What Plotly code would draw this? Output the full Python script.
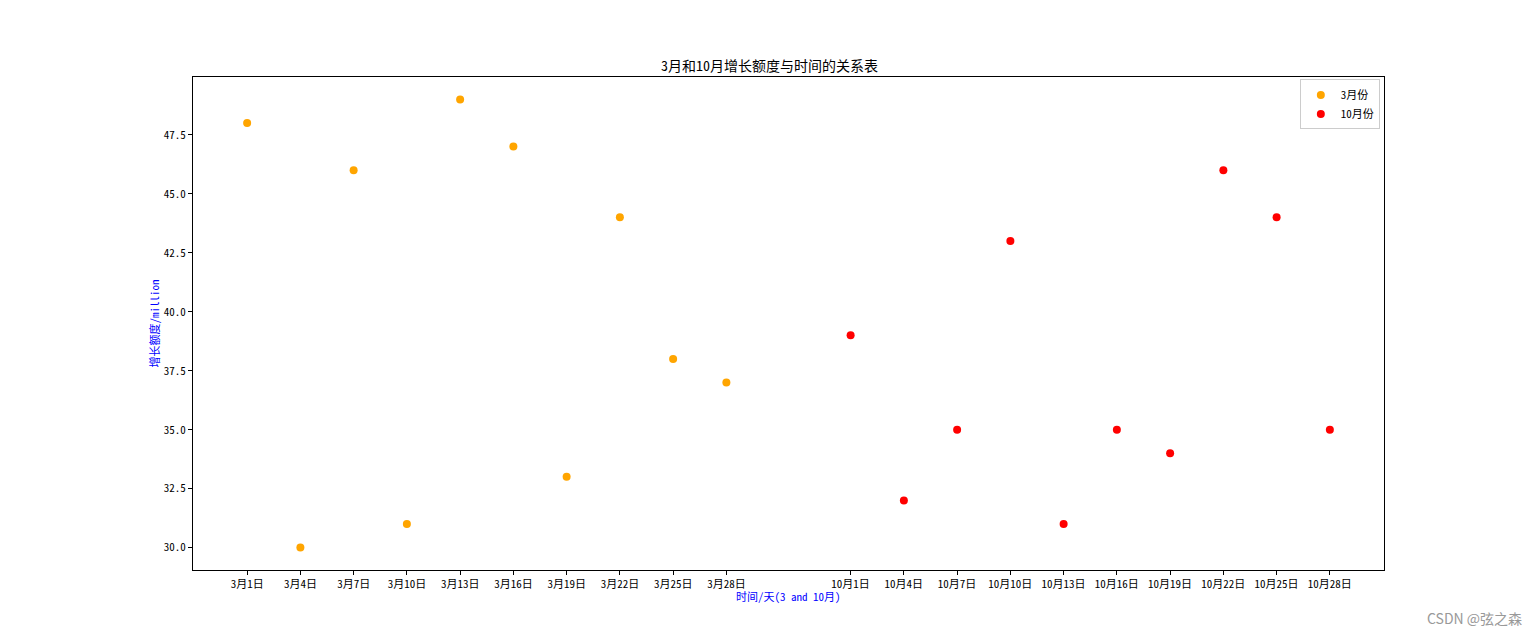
import plotly.graph_objects as go

# Data
march_x = [1, 4, 7, 10, 13, 16, 19, 22, 25, 28]
march_y = [48, 30, 46, 31, 49, 47, 33, 44, 38, 37]
oct_x = [35, 38, 41, 44, 47, 50, 53, 56, 59, 62]
oct_y = [39, 32, 35, 43, 31, 35, 34, 46, 44, 35]
march_labels = ["3月1日", "3月4日", "3月7日", "3月10日", "3月13日", "3月16日", "3月19日", "3月22日", "3月25日", "3月28日"]
oct_labels = ["10月1日", "10月4日", "10月7日", "10月10日", "10月13日", "10月16日", "10月19日", "10月22日", "10月25日", "10月28日"]
y_ticks = [30.0, 32.5, 35.0, 37.5, 40.0, 42.5, 45.0, 47.5]

FONT = "Noto Sans Mono CJK SC, Noto Sans CJK SC, DejaVu Sans Mono, sans-serif"

W, H = 1523, 624
L, T, R, B = 185, 69, 147, 62

fig = go.Figure()
fig.add_trace(go.Scatter(x=march_x, y=march_y, mode="markers", name="3月份",
                         marker=dict(color="orange", size=8)))
fig.add_trace(go.Scatter(x=oct_x, y=oct_y, mode="markers", name="10月份",
                         marker=dict(color="red", size=8)))

xmin, xmax = min(march_x), max(oct_x)
xm = (xmax - xmin) * 0.05
ally = march_y + oct_y
ymin, ymax = min(ally), max(ally)
ym = (ymax - ymin) * 0.05

axis_common = dict(showline=True, linecolor="black", linewidth=1, mirror=True,
                   ticks="outside", ticklen=4, tickcolor="black", showgrid=False,
                   zeroline=False, tickfont=dict(family=FONT, size=11, color="black"))

fig.update_layout(
    width=W, height=H,
    paper_bgcolor="white", plot_bgcolor="white",
    margin=dict(l=L, r=R, t=T, b=B),
    title=dict(text="3月和10月增长额度与时间的关系表", x=0.5, xanchor="center",
               y=1 - 63 / H, yanchor="bottom",
               font=dict(family=FONT, size=14, color="black")),
    xaxis=dict(range=[xmin - xm, xmax + xm], tickvals=march_x + oct_x,
               ticktext=march_labels + oct_labels, **axis_common),
    yaxis=dict(range=[ymin - ym, ymax + ym], tickvals=y_ticks, tickformat=".1f",
               **axis_common),
    legend=dict(x=0.9965, y=0.995, xanchor="right", yanchor="top",
                bordercolor="#cccccc", borderwidth=1, bgcolor="rgba(255,255,255,0.8)",
                font=dict(family=FONT, size=11, color="black")),
    annotations=[
        dict(text="时间/天(3 and 10月)", x=0.5, y=0, xref="paper", yref="paper",
             xanchor="center", yanchor="middle", yshift=-26, showarrow=False,
             font=dict(family=FONT, size=11, color="blue")),
        dict(text="增长额度/million", x=0, y=0.5, xref="paper", yref="paper",
             xanchor="center", yanchor="middle", xshift=-40, textangle=-90,
             showarrow=False, font=dict(family=FONT, size=11, color="blue")),
        dict(text="CSDN @弦之森", x=1, y=0, xref="paper", yref="paper",
             xanchor="right", yanchor="bottom", xshift=R - 7, yshift=-B + 2,
             showarrow=False, font=dict(family="Noto Sans CJK SC, sans-serif", size=14, color="#999999")),
    ],
)

fig.write_html("out.html")
